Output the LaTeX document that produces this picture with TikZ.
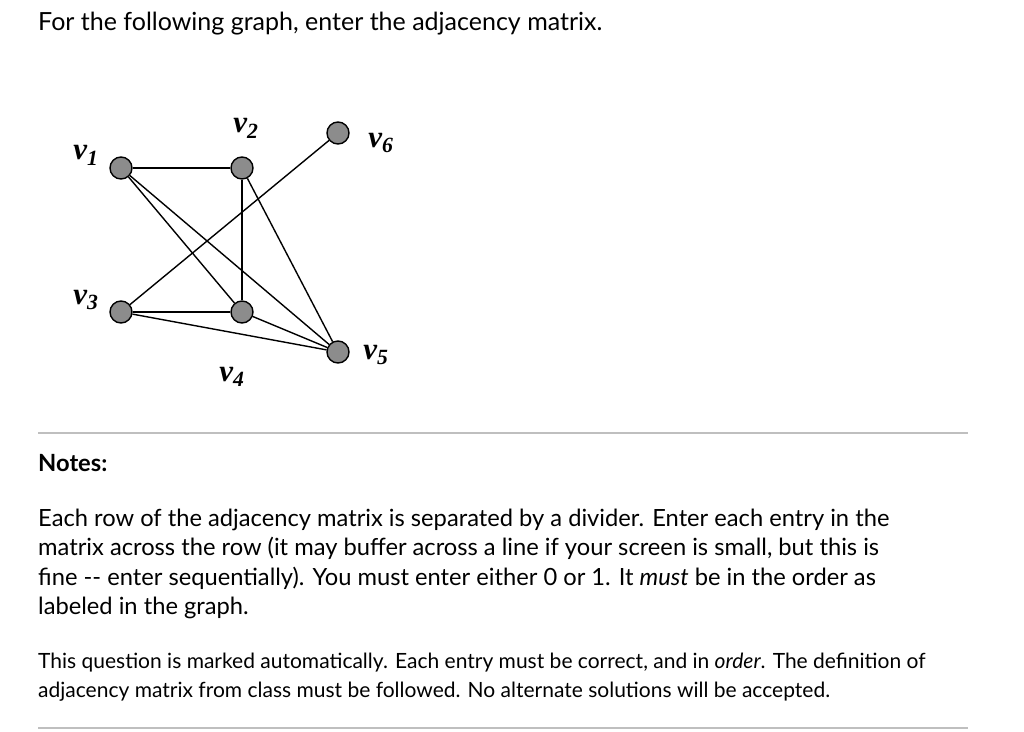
\documentclass[tikz,border=0pt]{standalone}
\usepackage{fontspec}
\setmainfont{Lato}
\newfontfamily\gfont{Liberation Serif}
\usetikzlibrary{backgrounds}
\begin{document}
\begin{tikzpicture}[x=1pt,y=-1pt,
  vtx/.style={circle,draw=black,line width=1.4pt,fill=black!45,minimum size=22pt,inner sep=0pt},
  edge/.style={line width=1.4pt},
  vlab/.style={font=\fontsize{31}{31}\selectfont\gfont\bfseries\itshape},
  txt/.style={anchor=base west,inner sep=0pt,font=\fontsize{23.7}{26}\selectfont},
  stxt/.style={anchor=base west,inner sep=0pt,font=\fontsize{21}{22}\selectfont}]
\useasboundingbox (0,0) rectangle (1024,731);
\node[txt,font=\fontsize{25}{26}\selectfont] (t) at (38,30) {For the following graph, enter the adjacency matrix.};
\node[vtx] (v1) at (121,168) {};
\node[vtx] (v2) at (242,168) {};
\node[vtx] (v6) at (338,133) {};
\node[vtx] (v3) at (121,312) {};
\node[vtx] (v4) at (242,312) {};
\node[vtx] (v5) at (338,352) {};
\begin{scope}[on background layer]
\draw[edge] (v1)--(v2); \draw[edge] (v1)--(v4); \draw[edge] (v1)--(v5);
\draw[edge] (v2)--(v4); \draw[edge] (v2)--(v5); \draw[edge] (v3)--(v6);
\draw[edge] (v3)--(v4); \draw[edge] (v3)--(v5); \draw[edge] (v4)--(v5);
\end{scope}
\node[vlab] (l1) at (86,155) {v\textsubscript{1}};
\node[vlab] (l2) at (246,128) {v\textsubscript{2}};
\node[vlab] (l6) at (381,143) {v\textsubscript{6}};
\node[vlab] (l3) at (86,300) {v\textsubscript{3}};
\node[vlab] (l4) at (232,377) {v\textsubscript{4}};
\node[vlab] (l5) at (376,355) {v\textsubscript{5}};
\coordinate (a1) at (38,433); \coordinate (a2) at (968,433);
\draw[gray!50,line width=1.5pt] (a1)--(a2);
\node[txt,font=\bfseries\fontsize{23.7}{26}\selectfont] (n) at (38,471) {Notes:};
\node[txt] (p1) at (38,526) {Each row of the adjacency matrix is separated by a divider. Enter each entry in the};
\node[txt] (p2) at (38,555) {matrix across the row (it may buffer across a line if your screen is small, but this is};
\node[txt] (p3) at (38,585) {fine -{}- enter sequentially). You must enter either 0 or 1. It \textit{must} be in the order as};
\node[txt] (p4) at (38,614) {labeled in the graph.};
\node[stxt] (s1) at (38,668) {This question is marked automatically. Each entry must be correct, and in \textit{order}. The definition of};
\node[stxt] (s2) at (38,697) {adjacency matrix from class must be followed. No alternate solutions will be accepted.};
\coordinate (b1) at (38,728); \coordinate (b2) at (968,728);
\draw[gray!50,line width=1.5pt] (b1)--(b2);
\end{tikzpicture}
\end{document}
